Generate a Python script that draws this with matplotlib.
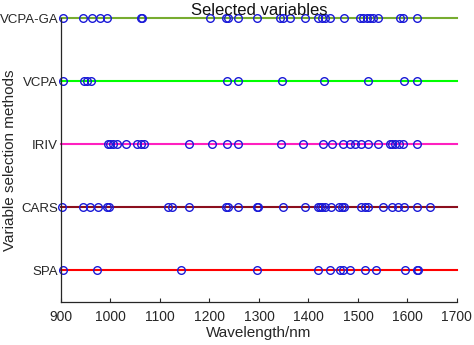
import numpy as np
import matplotlib
matplotlib.use("Agg")
import matplotlib.pyplot as plt

plt.rcParams['font.family'] = ['Liberation Sans', 'DejaVu Sans']

methods = ['SPA', 'CARS', 'IRIV', 'VCPA', 'VCPA-GA']
line_colors = ['#ff0000', '#8b0f1e', '#ff20c0', '#00ff00', '#77ac30']

# selected wavelengths (nm)
spa = [905, 972, 1142, 1297, 1420, 1443, 1464, 1470, 1484, 1514, 1536, 1595,
       1619, 1622]
cars = [903, 945, 959, 975, 992, 996, 1117, 1124, 1159, 1233, 1238, 1257, 1297,
        1299, 1348, 1392, 1419, 1423, 1427, 1433, 1445, 1462, 1468, 1472, 1507,
        1514, 1521, 1551, 1568, 1581, 1594, 1619, 1645]
iriv = [994, 999, 1006, 1014, 1031, 1053, 1062, 1068, 1159, 1206, 1235, 1257,
        1344, 1389, 1430, 1447, 1470, 1484, 1494, 1506, 1521, 1541, 1565, 1569,
        1575, 1583, 1592, 1619]
vcpa = [905, 947, 952, 961, 1235, 1258, 1347, 1432, 1520, 1593, 1619]
vcpa_ga = [905, 945, 962, 979, 992, 1062, 1064, 1201, 1233, 1238, 1257, 1297,
           1342, 1349, 1363, 1392, 1419, 1427, 1433, 1443, 1472, 1504, 1511,
           1518, 1524, 1531, 1540, 1585, 1592, 1619]
selected = [spa, cars, iriv, vcpa, vcpa_ga]

fig = plt.figure(figsize=(4.74, 3.45), dpi=100)
ax = fig.add_axes([0.1287, 0.1246, 0.8353, 0.8232])

for i, (wl, c) in enumerate(zip(selected, line_colors)):
    y = i + 1
    ax.plot([900, 1700], [y, y], color=c, lw=1.5, zorder=1, clip_on=False)
    ax.plot(wl, np.full(len(wl), y), 'o', mfc='none', mec='#1a1ad8',
            ms=5.5, mew=1.0, zorder=2, clip_on=False)

ax.set_xlim(900, 1700)
ax.set_ylim(0.5, 5)
ax.set_xticks(np.arange(900, 1701, 100))
ax.set_yticks(np.arange(1, 6))
ax.set_yticklabels(methods)
ax.tick_params(axis='x', direction='in', length=3, labelsize=10, pad=6,
               colors='#262626')
ax.tick_params(axis='y', length=0, labelsize=9.5, pad=2, colors='#262626')
for s in ['top', 'right']:
    ax.spines[s].set_visible(False)
for s in ['left', 'bottom']:
    ax.spines[s].set_color('#262626')
    ax.spines[s].set_linewidth(0.9)

ax.set_xlabel('Wavelength/nm', fontsize=11, labelpad=1, color='#262626')
ax.set_ylabel('Variable selection methods', fontsize=11, color='#262626')
ax.yaxis.set_label_coords(-0.112, 0.5)
ax.set_title('Selected variables', fontsize=12, pad=1, color='#111111')

fig.savefig('out.png', dpi=100)
